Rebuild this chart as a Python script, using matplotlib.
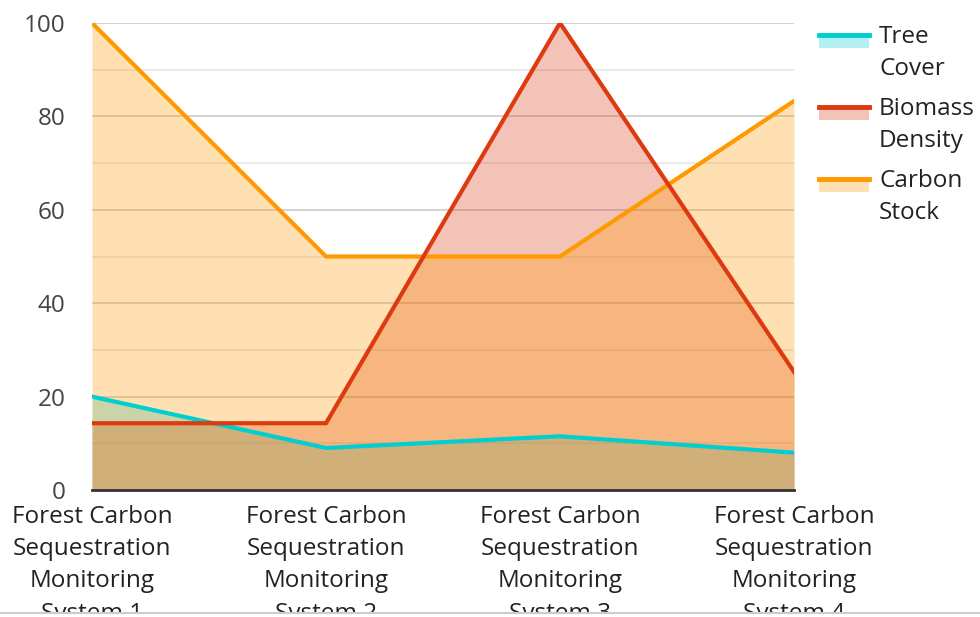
import numpy as np
import matplotlib
matplotlib.use("Agg")
from matplotlib import pyplot as plt
from matplotlib.patches import Rectangle
from matplotlib.lines import Line2D

plt.rcParams['font.family'] = ['Open Sans', 'DejaVu Sans']

categories = ["Forest Carbon\nSequestration\nMonitoring\nSystem 1",
              "Forest Carbon\nSequestration\nMonitoring\nSystem 2",
              "Forest Carbon\nSequestration\nMonitoring\nSystem 3",
              "Forest Carbon\nSequestration\nMonitoring\nSystem 4"]
series_names = ["Tree\nCover", "Biomass\nDensity", "Carbon\nStock"]
tree_cover = [20, 9, 11.5, 8]
biomass_density = [14.3, 14.3, 100, 25.3]
carbon_stock = [100, 50, 50, 83.3]
y_ticks = [0, 20, 40, 60, 80, 100]

colors = ['#00CED1', '#DD3A11', '#FF9900']
series = [tree_cover, biomass_density, carbon_stock]

fig = plt.figure(figsize=(9.8, 6.17), dpi=100)
ax = fig.add_axes([92/980, 127/617, 702/980, 467/617])
x = np.arange(len(categories))

# fills first, tree cover underneath
for vals, c in zip(series, colors):
    ax.fill_between(x, 0, vals, color=c, alpha=0.3, linewidth=0, zorder=2)
for i in [0, 2, 1]:
    ax.plot(x, series[i], color=colors[i], linewidth=3, zorder=3,
            solid_joinstyle='miter')

ax.set_xlim(0, 3)
ax.set_ylim(0, 100)
ax.set_yticks(y_ticks)
ax.set_yticks([10, 30, 50, 70, 90], minor=True)
ax.grid(True, axis='y', which='major', color='#cccccc', linewidth=1.2, zorder=1)
ax.grid(True, axis='y', which='minor', color='#e8e8e8', linewidth=1.2, zorder=1)
ax.set_axisbelow(True)
ax.set_xticks(x)
ax.set_xticklabels(categories, fontsize=17.5, color='#222222', linespacing=1.45)
ax.tick_params(axis='x', length=0, pad=11)
ax.tick_params(axis='y', which='both', length=0, pad=19, labelsize=17.5,
               labelcolor='#444444')
for s in ['top', 'right', 'left']:
    ax.spines[s].set_visible(False)
ax.spines['bottom'].set_color('#333333')
ax.spines['bottom'].set_linewidth(2)
ax.spines['bottom'].set_zorder(4)

# legend drawn by hand: line sitting on a light swatch
W, H = 980.0, 617.0
for k, (name, c) in enumerate(zip(series_names, colors)):
    top = 33 + 72 * k
    fig.add_artist(Rectangle((819/W, 1 - (top + 15)/H), 50/W, 15/H,
                             transform=fig.transFigure, facecolor=c,
                             alpha=0.3, linewidth=0))
    fig.add_artist(Line2D([819/W, 869/W], [1 - (top + 2)/H] * 2,
                          transform=fig.transFigure, color=c, linewidth=3.5))
    fig.text(879/W, 1 - (top - 8)/H, name, fontsize=17.5, color='#222222',
             va='top', ha='left', linespacing=1.45)

# bottom cut-off strip
fig.add_artist(Rectangle((0, 0), 1, 5/H, transform=fig.transFigure,
                         facecolor='white', edgecolor='none', zorder=10))
fig.add_artist(Line2D([0, 1], [4.5/H, 4.5/H], transform=fig.transFigure,
                      color='#cccccc', linewidth=1.5, zorder=11))

fig.savefig('out.png', dpi=100)
